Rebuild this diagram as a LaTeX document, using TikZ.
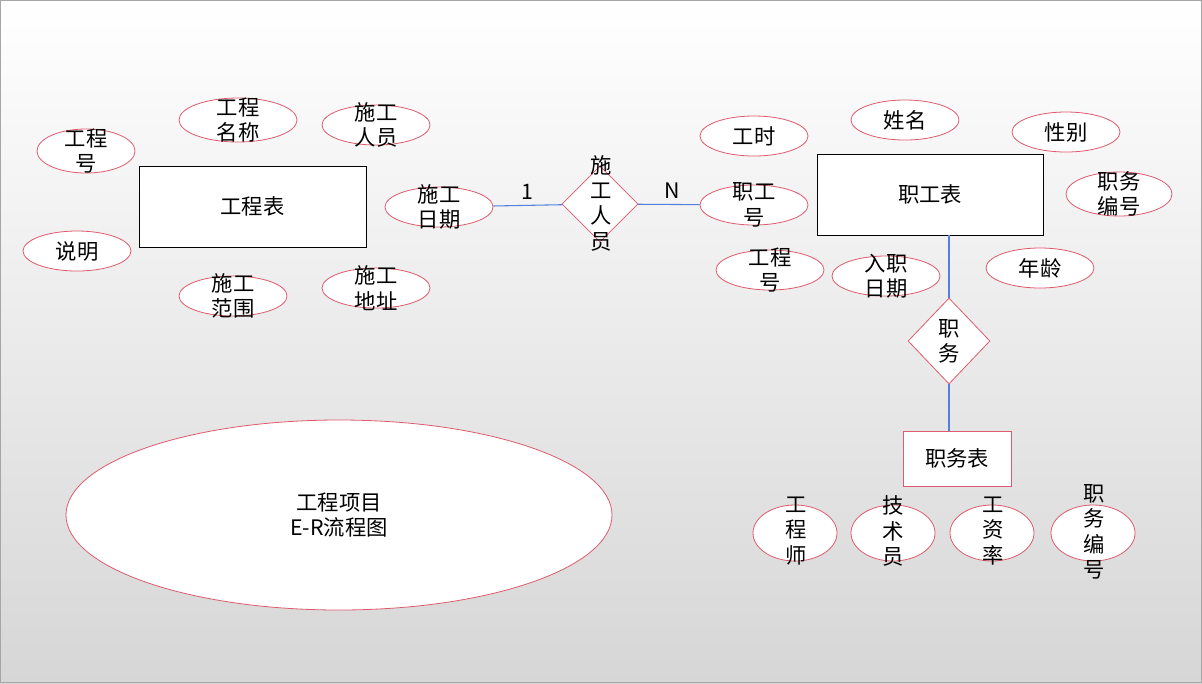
\documentclass[tikz,border=0pt]{standalone}
\usepackage{fontspec}
\setmainfont{Noto Sans CJK SC}
\usetikzlibrary{shapes.geometric}
\definecolor{pinkline}{RGB}{222,90,110}
\definecolor{blueline}{RGB}{80,130,220}
\begin{document}
\begin{tikzpicture}[x=0.75pt,y=-0.75pt,
  every node/.style={font=\fontsize{16}{19}\selectfont,align=center,inner sep=0pt},
  attr/.style={ellipse,draw=pinkline,fill=white,line width=0.6pt,minimum width=#1*0.75pt,minimum height=30pt},
  attr/.default=108,
  vattr/.style={ellipse,draw=pinkline,fill=white,line width=0.6pt,minimum width=63pt,minimum height=42pt},
  ent/.style={rectangle,draw=black,fill=white,line width=0.6pt},
  rel/.style={diamond,draw=pinkline,fill=white,line width=0.6pt,aspect=1},
  conn/.style={draw=blueline,line width=0.8pt}]
\useasboundingbox (0,0) rectangle (1202,683);
\shade[top color=white,bottom color=black!16] (0,0) rectangle (1202,683);
\draw[black!35,line width=0.8pt] (0.5,0.5) rectangle (1201.5,682.5);
% entities
\node[ent,minimum width=170.25pt,minimum height=60.75pt] (gcb) at (252.5,206.5) {工程表};
\node[ent,minimum width=169.5pt,minimum height=60.75pt] (zgb) at (930,194.5) {职工表};
\node[ent,draw=pinkline,minimum width=81pt,minimum height=41.25pt] (zwb) at (957,458.5) {职务表};
% relations
\node[rel,minimum width=57pt,minimum height=57pt] (sgry) at (600,204) {};
\node (t0) at (601,203) {施\\工\\人\\员};
\node[rel,minimum width=61.5pt,minimum height=64.5pt] (zw) at (949,341) {};
\node (t00) at (949,341) {职\\务};
% attributes (ellipses)
\node[attr=98,minimum height=33pt] (a1) at (86,151) {};
\node[attr=118,minimum height=33pt] (a2) at (238,120) {};
\node[attr] (a3) at (376,125) {};
\node[attr] (sgrq) at (439,207) {};
\node[attr] (a5) at (77,251) {};
\node[attr] (a6) at (233,296) {};
\node[attr] (a7) at (376,288) {};
\node[attr] (b1) at (754,136) {};
\node[attr] (b2) at (905,120) {};
\node[attr] (b3) at (1066,132) {};
\node[attr] (zgh) at (754,205) {};
\node[attr=106,minimum height=33pt] (b5) at (1119,194) {};
\node[attr] (b6) at (770,270) {};
\node[attr] (b7) at (886,276) {};
\node[attr] (b8) at (1040,268) {};
\node[vattr] (c1) at (795,533) {};
\node[vattr] (c2) at (893,533) {};
\node[vattr] (c3) at (992,533) {};
\node[vattr] (c4) at (1093,533) {};
% attribute texts
\node (ta1) at (86,151) {工程\\号};
\node (ta2) at (238,120) {工程\\名称};
\node (ta3) at (376,125) {施工\\人员};
\node (ta4) at (439,207) {施工\\日期};
\node (ta5) at (77,251) {说明};
\node (ta6) at (233,296) {施工\\范围};
\node (ta7) at (376,288) {施工\\地址};
\node (tb1) at (754,136) {工时};
\node (tb2) at (905,120) {姓名};
\node (tb3) at (1066,132) {性别};
\node (tb4) at (754,205) {职工\\号};
\node (tb5) at (1119,194) {职务\\编号};
\node (tb6) at (770,270) {工程\\号};
\node (tb7) at (886,276) {入职\\日期};
\node (tb8) at (1040,268) {年龄};
\node (tc1) at (796,531) {工\\程\\师};
\node (tc2) at (893,531) {技\\术\\员};
\node (tc3) at (993,531) {工\\资\\率};
\node (tc4) at (1094,532) {职\\务\\编\\号};
% big ellipse
\node[ellipse,draw=pinkline,fill=white,line width=0.6pt,minimum width=409.5pt,minimum height=142.5pt] (big) at (339,515) {工程项目\\E-R流程图};
% connectors
\path[conn] (sgrq) -- node[above=4pt,pos=0.5,black] {1} (sgry);
\path[conn] (sgry) -- node[above=4pt,pos=0.55,black] {N} (zgh);
\path[conn] (zgb.south -| zw) -- (zw);
\path[conn] (zw) -- (zwb.north -| zw);
\end{tikzpicture}
\end{document}
